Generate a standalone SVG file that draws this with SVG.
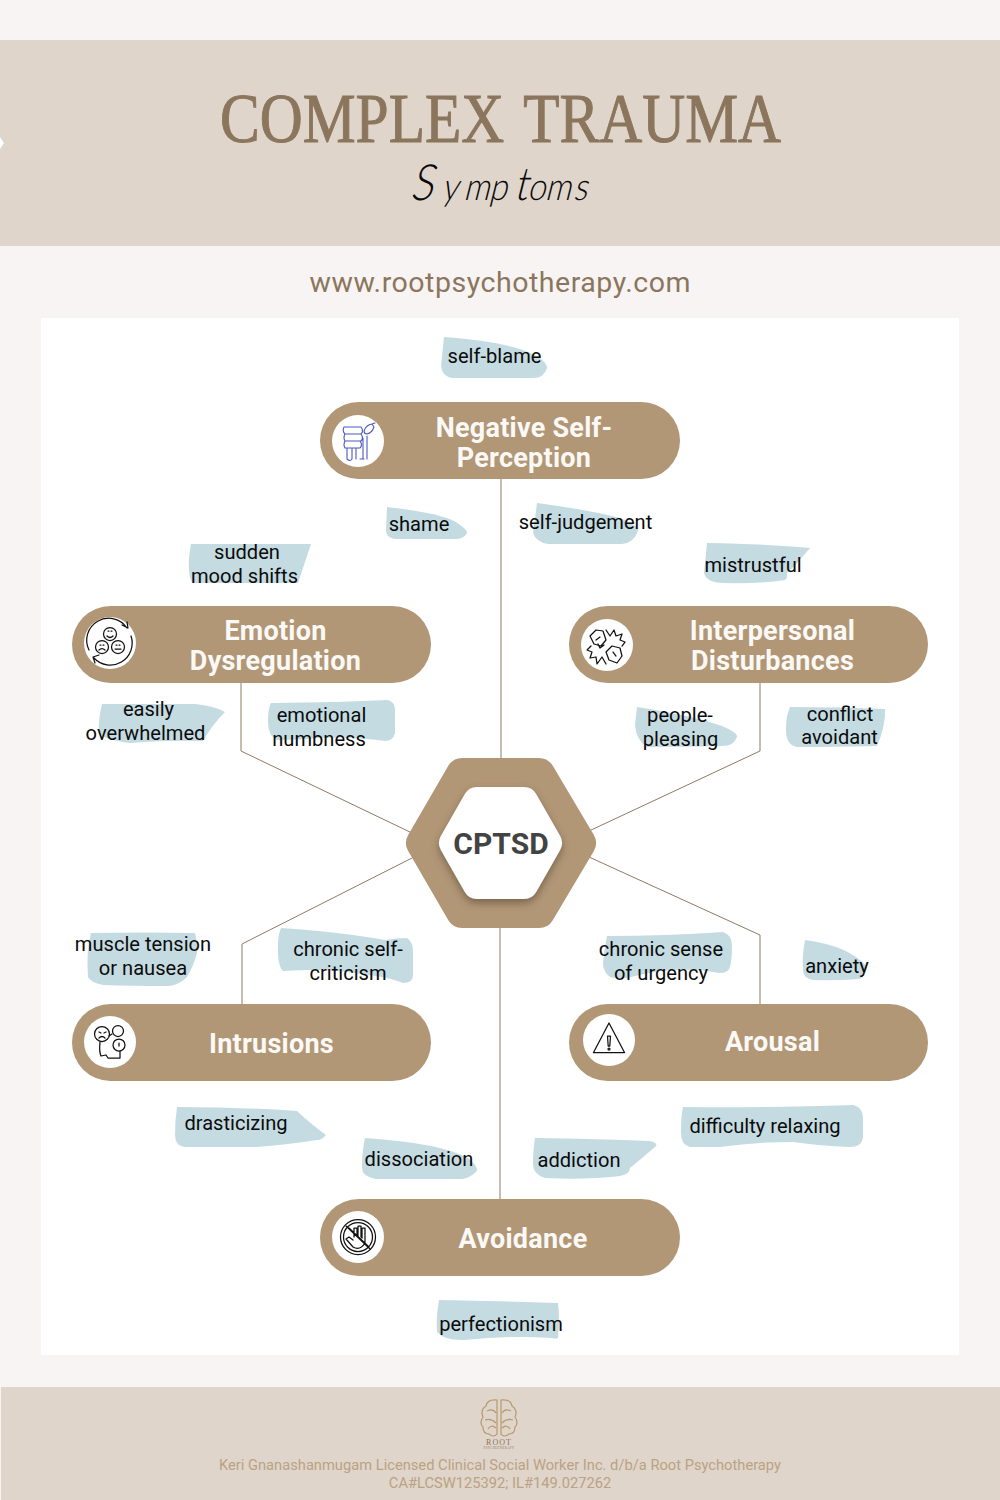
<svg xmlns="http://www.w3.org/2000/svg" width="1000" height="1500" viewBox="0 0 1000 1500">
<style>
.blob{fill:#C5DBE2}
.t{font-family:Roboto,"Liberation Sans",sans-serif;font-size:20.1px;fill:#0b0b0b;text-anchor:middle}
.p{fill:#B29777}
.pt{font-family:Roboto,"Liberation Sans",sans-serif;font-size:27px;font-weight:700;fill:#FBF9F6;text-anchor:middle;letter-spacing:.25px}
.c{fill:#fff}
.i{fill:none;stroke:#111;stroke-width:1.25;stroke-linejoin:round;stroke-linecap:round}
.ib{fill:none;stroke:#4B58C4;stroke-width:1.1;stroke-linejoin:round;stroke-linecap:round}
.l{fill:none;stroke:#8F7A63;stroke-width:1}
.ft{font-family:Roboto,"Liberation Sans",sans-serif;font-size:14.7px;fill:#BBA283;text-anchor:middle}
.br{fill:none;stroke:#B8996F;stroke-width:1.2}
</style>
<defs>
<filter id="sh" x="-30%" y="-30%" width="160%" height="160%"><feDropShadow dx="0" dy="4" stdDeviation="4" flood-color="#5a4a36" flood-opacity=".65"/></filter>
</defs>
<rect width="1000" height="1500" fill="#F7F4F3"/>
<rect y="40" width="1000" height="206" fill="#DFD5CA"/>
<path d="M0 137L4 143L0 149Z" fill="#fff"/>
<text id="title" x="220" y="142" font-family="'Liberation Serif',serif" font-size="70" word-spacing="6" fill="#8B765D" stroke="#8B765D" stroke-width="1" textLength="561" lengthAdjust="spacingAndGlyphs">COMPLEX TRAUMA</text>
<text id="subtitle" transform="translate(0 200) skewX(-14) scale(.85 1)" font-family="Lato,'Liberation Sans',sans-serif" font-weight="300" font-size="38" fill="#0a0a0a"><tspan x="482" font-size="50">S</tspan><tspan x="519">y</tspan><tspan x="545">m</tspan><tspan x="575">p</tspan><tspan x="604" font-size="46">t</tspan><tspan x="620">o</tspan><tspan x="641">m</tspan><tspan x="674">s</tspan></text>
<text id="url" x="500" y="292" font-family="Roboto,'Liberation Sans',sans-serif" font-size="28.5" fill="#8B765D" text-anchor="middle" textLength="381">www.rootpsychotherapy.com</text>
<rect x="41" y="318" width="918" height="1037" fill="#fff"/>

<g id="connectors">
<path class="l" d="M501 479V760"/>
<path class="l" d="M500 926V1199"/>
<path class="l" d="M241 683V751L412 833"/>
<path class="l" d="M760 683V751L589 831"/>
<path class="l" d="M414 857L242 944V1004"/>
<path class="l" d="M589 857L760 935V1004"/>
</g>

<g id="blobs">
<path class="blob" d="M444 337Q500 341 528 352Q547 360 547 368Q544 378 533 378H452Q442 376 441 366Z"/>
<path class="blob" d="M387 507Q440 513 456 522Q468 530 467 533Q464 539 455 539H395Q386 538 386 530Z"/>
<path class="blob" d="M537 503Q590 510 620 518Q639 526 638 531Q634 543 622 544H548Q536 542 533 533Z"/>
<path class="blob" d="M191 544H311L298 583H192Q186 570 191 544Z"/>
<path class="blob" d="M102 704H195Q215 706 225 712Q212 725 203 741Q170 740 130 743Q105 740 99 733Q98 720 102 704Z"/>
<path class="blob" d="M271 703Q330 703 388 700Q395 702 395 710V733Q393 741 385 741Q350 736 320 738Q298 740 277 740Q268 736 268 722Q268 708 271 703Z"/>
<path class="blob" d="M707 543Q770 544 810 548Q795 566 787 573Q788 578 785 580Q760 584 725 583Q706 583 704 573Z"/>
<path class="blob" d="M637 707Q690 715 722 726Q738 733 737 737Q734 746 722 746Q680 747 647 747Q636 740 635 725Z"/>
<path class="blob" d="M790 707Q840 707 885 709Q886 725 877 746Q830 747 797 747Q786 745 786 730Q786 715 790 707Z"/>
<path class="blob" d="M91 933Q145 932 195 933Q198 945 197 953Q194 965 187 977Q178 986 167 986Q130 986 103 985Q90 982 88 977Q86 950 91 933Z"/>
<path class="blob" d="M281 928Q340 932 385 940Q396 938 407 938Q413 942 413 950V975Q413 983 403 983Q385 976 367 975Q340 970 313 970Q298 970 283 971Q277 965 278 945Q278 935 281 928Z"/>
<path class="blob" d="M177 1107Q240 1107 297 1111Q312 1125 326 1135Q322 1140 317 1140Q285 1145 257 1147H185Q175 1146 175 1135Q175 1120 177 1107Z"/>
<path class="blob" d="M607 936Q665 936 723 932Q732 935 732 945Q732 960 730 967Q728 973 720 973Q695 968 670 970Q650 972 627 978Q612 978 610 977Q603 972 603 963Q605 945 607 936Z"/>
<path class="blob" d="M805 940Q850 946 867 967Q866 975 860 979Q835 981 813 980Q803 978 803 970Q802 955 805 940Z"/>
<path class="blob" d="M683 1107Q760 1108 853 1105Q863 1107 863 1118V1137Q862 1147 850 1147Q820 1146 793 1142Q755 1142 720 1147H690Q681 1145 681 1133Q681 1115 683 1107Z"/>
<path class="blob" d="M365 1138Q440 1143 468 1158Q478 1166 477 1171Q470 1178 462 1179H375Q362 1176 362 1168Q362 1150 365 1138Z"/>
<path class="blob" d="M535 1138Q600 1139 650 1141Q658 1143 656 1146Q640 1160 630 1168Q630 1174 620 1176Q585 1180 545 1178Q534 1175 533 1165Q533 1150 535 1138Z"/>
<path class="blob" d="M439 1300Q500 1301 558 1303Q560 1320 558 1338Q556 1339 552 1338Q510 1335 465 1340Q445 1341 437 1332Q436 1315 439 1300Z"/>
</g>

<g id="leaf-labels">
<text class="t" x="494.5" y="363">self-blame</text>
<text class="t" x="419" y="531">shame</text>
<text class="t" x="585.5" y="529">self-judgement</text>
<text class="t" x="247" y="559">sudden</text><text class="t" x="244.5" y="583">mood shifts</text>
<text class="t" x="148.5" y="716">easily</text><text class="t" x="145.5" y="740">overwhelmed</text>
<text class="t" x="321.5" y="722">emotional</text><text class="t" x="319" y="746">numbness</text>
<text class="t" x="753" y="572">mistrustful</text>
<text class="t" x="680" y="722">people-</text><text class="t" x="680.5" y="746">pleasing</text>
<text class="t" x="840" y="721">conflict</text><text class="t" x="839.5" y="744">avoidant</text>
<text class="t" x="143" y="951">muscle tension</text><text class="t" x="143" y="975">or nausea</text>
<text class="t" x="348" y="956">chronic self-</text><text class="t" x="348" y="980">criticism</text>
<text class="t" x="661" y="956">chronic sense</text><text class="t" x="661" y="980">of urgency</text>
<text class="t" x="837" y="973">anxiety</text>
<text class="t" x="236" y="1130">drasticizing</text>
<text class="t" x="765" y="1133">difficulty relaxing</text>
<text class="t" x="419" y="1166">dissociation</text>
<text class="t" x="579" y="1167">addiction</text>
<text class="t" x="501" y="1331">perfectionism</text>
</g>

<g id="node-negative">
<rect class="p" x="320" y="402" width="360" height="77" rx="38.5"/>
<circle class="c" cx="358" cy="441" r="26"/>
<path class="ib" d="M344 427H361Q364 431 361 434H345M345 434H361Q364 438 361 441H345M345 441H360Q363 445 360 448H345M344 427Q342 431 345 434M345 434Q343 438 345 441M345 441Q343 445 345 448M347 448V459Q350 462 352 459V448M356 448V459M363 438V459M367 436V459M360 459H364"/>
<path class="ib" d="M364 431Q366 425 372 424L374 427Q372 433 367 434Q364 434 364 431ZM372 424L375 423"/>
<text class="pt" x="524" y="437">Negative Self-</text>
<text class="pt" x="524" y="467">Perception</text>
</g>

<g id="node-emotion">
<rect class="p" x="72" y="606" width="359" height="77" rx="38.5"/>
<circle class="c" cx="110" cy="643" r="26"/>
<circle class="i" cx="110" cy="634" r="6.5"/><circle class="i" cx="102" cy="647" r="6.5"/><circle class="i" cx="118" cy="647" r="6.5"/>
<path class="i" d="M107 636Q110 639 113 636M99 650Q102 647 105 650M115 649H121M108 631H109M111 631H112M100 645H101M103 645H104M116 645H117M119 645H120"/>
<path class="i" d="M89 650A22 22 0 0 1 127 628M122 625L128 628L127 622M131 636A22 22 0 0 1 94 658M99 655L93 657L95 663"/>
<text class="pt" x="275.5" y="640">Emotion</text>
<text class="pt" x="275.5" y="670">Dysregulation</text>
</g>

<g id="node-interpersonal">
<rect class="p" x="569" y="606" width="359" height="77" rx="38.5"/>
<circle class="c" cx="607" cy="645" r="26"/>
<path class="i" d="M590 636L596 630L603 631L606 640L601 646L594 644ZM596 640L600 637M598 644L600 648L604 645"/>
<path class="i" d="M606 652L612 646L620 648L622 656L617 663L609 660ZM613 652L616 656"/>
<path class="i" d="M606 630L610 636L614 630L616 636L622 634L620 640L625 642L622 646M606 664L602 657L597 664L596 657L590 658L592 652L587 650L591 646"/>
<text class="pt" x="772.5" y="640">Interpersonal</text>
<text class="pt" x="772.5" y="670">Disturbances</text>
</g>

<g id="node-intrusions">
<rect class="p" x="72" y="1004" width="359" height="77" rx="38.5"/>
<circle class="c" cx="110" cy="1042" r="26"/>
<circle class="i" cx="102" cy="1034" r="7.5"/><circle class="i" cx="118" cy="1031" r="5.5"/><circle class="i" cx="119" cy="1045" r="6"/>
<path class="i" d="M99 1032L101 1033M106 1032L104 1033M99 1038Q102 1035 105 1038M119 1043V1046M100 1042Q99 1052 101 1056L106 1055L108 1058H120V1051M109 1036L112 1034"/>
<text class="pt" x="271.5" y="1053">Intrusions</text>
</g>

<g id="node-arousal">
<rect class="p" x="569" y="1004" width="359" height="77" rx="38.5"/>
<circle class="c" cx="609" cy="1040" r="26"/>
<path class="i" d="M609 1023L624.5 1052.5H593.5Z"/>
<path class="i" d="M607.5 1036H610.5L609.8 1046H608.2Z"/><circle class="i" cx="609" cy="1049" r="1"/>
<text class="pt" x="772.5" y="1051">Arousal</text>
</g>

<g id="node-avoidance">
<rect class="p" x="320" y="1199" width="360" height="77" rx="38.5"/>
<circle class="c" cx="358" cy="1237" r="26"/>
<circle class="i" cx="358" cy="1237" r="17.5"/><circle class="i" cx="358" cy="1237" r="14.5"/>
<path class="i" d="M346 1226L370 1249M349 1228L369 1247M354 1237V1228H357V1236M358 1236V1226H361V1237M362 1238V1228H365V1243Q360 1251 353 1247L346 1239L349 1237L353 1240"/>
<text class="pt" x="523" y="1248">Avoidance</text>
</g>

<g id="node-cptsd">
<path d="M462 774H539L580 843L539 912H462L422 843Z" fill="#B29777" stroke="#B29777" stroke-width="32" stroke-linejoin="round"/>
<path d="M477 801H524L548 843L524 885H477L453 843Z" fill="#fff" stroke="#fff" stroke-width="28" stroke-linejoin="round" filter="url(#sh)"/>
<text x="501" y="854" font-family="Roboto,'Liberation Sans',sans-serif" font-size="30" font-weight="700" fill="#434343" text-anchor="middle">CPTSD</text>
</g>

<g id="footer">
<rect x="1" y="1387" width="999" height="113" fill="#DFD5CA"/>
<path class="br" d="M497 1400Q487 1399 486 1406Q480 1410 483 1417Q479 1423 483 1427Q483 1434 489 1434Q494 1438 497 1434ZM501 1400Q511 1399 512 1406Q518 1410 515 1417Q519 1423 515 1427Q515 1434 509 1434Q504 1438 501 1434Z"/>
<path class="br" d="M487 1411Q493 1408 496 1413M485 1420Q491 1418 496 1423M488 1429Q491 1424 496 1428M511 1411Q505 1408 502 1413M513 1420Q507 1418 502 1423M510 1429Q507 1424 502 1428"/>
<text x="499" y="1445" font-family="'Liberation Serif',serif" font-size="8" letter-spacing="1" fill="#8B765D" text-anchor="middle">ROOT</text>
<text x="499" y="1449" font-family="'Liberation Serif',serif" font-size="3" letter-spacing=".4" fill="#8B765D" text-anchor="middle">PSYCHOTHERAPY</text>
<text class="ft" x="500" y="1470">Keri Gnanashanmugam Licensed Clinical Social Worker Inc. d/b/a Root Psychotherapy</text>
<text class="ft" x="500" y="1488">CA#LCSW125392; IL#149.027262</text>
</g>
</svg>
